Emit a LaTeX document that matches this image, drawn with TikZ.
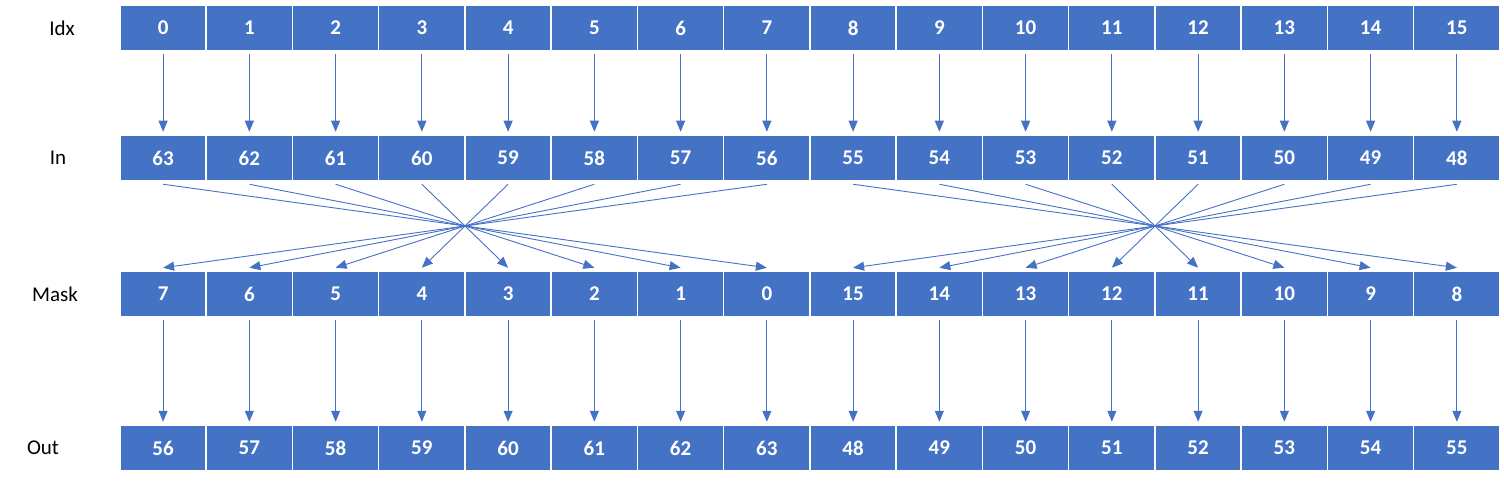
\documentclass[tikz,border=0pt]{standalone}
\usepackage{fontspec}
\setmainfont{Carlito}
\usetikzlibrary{arrows.meta}
\definecolor{cellblue}{HTML}{4472C4}
\begin{document}
\begin{tikzpicture}[x=1pt,y=-1pt,
  cell/.style={fill=cellblue,draw=white,line width=1.5pt,minimum width=86.25pt,minimum height=45pt,inner sep=0pt,text=white,font=\fontsize{21}{24}\selectfont\bfseries},
  lbl/.style={font=\fontsize{21}{24}\selectfont},
  arr/.style={draw=cellblue,line width=0.9pt,-{Triangle[width=9pt,length=11pt]}}]
\useasboundingbox (0,0) rectangle (1504,486);
\def\idxv{0,1,2,3,4,5,6,7,8,9,10,11,12,13,14,15}
\def\inv{63,62,61,60,59,58,57,56,55,54,53,52,51,50,49,48}
\def\maskv{7,6,5,4,3,2,1,0,15,14,13,12,11,10,9,8}
\def\outv{56,57,58,59,60,61,62,63,48,49,50,51,52,53,54,55}
\node[lbl] (lidx) at (62,28) {Idx};
\node[lbl] (lin) at (58,158) {In};
\node[lbl] (lmask) at (55,294) {Mask};
\node[lbl] (lout) at (43,448) {Out};
\foreach \v [count=\i from 0] in \idxv {\node[cell] (a\i) at ({163.1+86.25*\i},28) {\v};}
\foreach \v [count=\i from 0] in \inv {\node[cell] (b\i) at ({163.1+86.25*\i},158) {\v};}
\foreach \v [count=\i from 0] in \maskv {\node[cell] (c\i) at ({163.1+86.25*\i},294) {\v};}
\foreach \v [count=\i from 0] in \outv {\node[cell] (d\i) at ({163.1+86.25*\i},448) {\v};}
\foreach \i in {0,...,15} {
  \draw[arr] ([yshift=-3pt]a\i.south) -- ([yshift=3pt]b\i.north);
  \draw[arr] ([yshift=-3pt]c\i.south) -- ([yshift=3pt]d\i.north);
}
\foreach \i in {0,...,7} {
  \pgfmathtruncatemacro\j{7-\i}
  \draw[arr] ([yshift=-3pt]b\i.south) -- ([yshift=3pt]c\j.north);
  \pgfmathtruncatemacro\k{8+\i}
  \pgfmathtruncatemacro\m{15-\i}
  \draw[arr] ([yshift=-3pt]b\k.south) -- ([yshift=3pt]c\m.north);
}
\end{tikzpicture}
\end{document}
